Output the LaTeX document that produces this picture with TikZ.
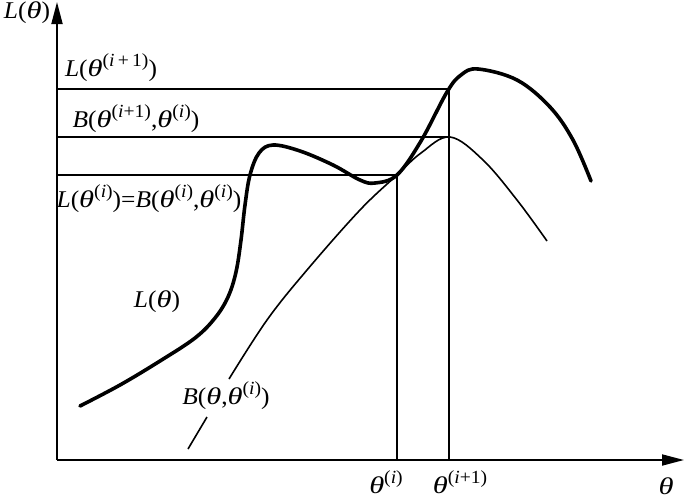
\documentclass[tikz,border=0pt]{standalone}
\usepackage{fontspec}
\usepackage{graphicx}
\setmainfont{Liberation Serif}
\usetikzlibrary{arrows.meta}
\newcommand\It[1]{\textit{#1}}
\newcommand\Th{\scalebox{1.2}[1]{\textit{θ}}}
\newcommand\Sp[1]{\raisebox{0.42em}{\fontsize{18.5}{20}\selectfont #1}}
\newcommand\thi{\Th\Sp{(\It{i})}}
\newcommand\thii{\Th\Sp{(\It{i}+1)}}
\newcommand\thiis{\Th\Sp{(\It{i}\,+\,1)}}
\newcommand\Wide[1]{\scalebox{1.06}[1]{#1}}
\begin{document}
\begin{tikzpicture}[x=1pt,y=-1pt,
  lbl/.style={inner sep=0pt, font=\fontsize{24}{28}\selectfont},
  axis/.style={line width=1.8pt, -{Triangle[length=22pt,width=11pt]}},
  guide/.style={line width=1.8pt},
  thickcurve/.style={line width=3.6pt, line cap=round},
  thincurve/.style={line width=1.6pt}]
\useasboundingbox (0,0) rectangle (685,498);
% axes
\coordinate (O) at (57,460);
\coordinate (ytop) at (57,2);
\coordinate (xend) at (684,460);
\draw[axis] (O) -- (ytop);
\draw[axis] (O) -- (xend);
% guide lines
\coordinate (Li1) at (57,89);
\coordinate (Pi1) at (449,89);
\coordinate (Bi1) at (57,137);
\coordinate (Qi1) at (449,137);
\coordinate (Li) at (57,175);
\coordinate (Pi) at (397,175);
\coordinate (Xi) at (397,460);
\coordinate (Xi1) at (449,460);
\draw[guide] (Li1) -- (Pi1) -- (Xi1);
\draw[guide] (Bi1) -- (Qi1);
\draw[guide] (Li) -- (Pi) -- (Xi);
% L(theta)
\draw[thickcurve] plot[smooth, tension=0.6] coordinates {
  (80,406) (120,385) (160,361) (195,338) (215,318) (228,297) (236,272)
  (241,240) (245,205) (250,175) (259,153) (273,145) (300,151) (333,165)
  (360,180) (375,183) (397,175) (421,141) (447,92) (461,75) (478,69)
  (517,80) (550,107) (573,140) (591,181)};
% B(theta, theta^i)
\draw[thincurve] (188,449) -- (207,417);
\draw[thincurve] plot[smooth, tension=0.6] coordinates {
  (229,379) (267,320) (307,270) (360,210) (397,175) (421,153) (450,137)
  (483,160) (517,200) (547,241)};
% labels
\node[lbl] (yl) at (27,13) {\Wide{\It{L}(\Th)}};
\node[lbl] (l1) at (111,68) {\Wide{\It{L}(\thiis)}};
\node[lbl] (b1) at (136,119) {\Wide{\It{B}(\thii,\thi)}};
\node[lbl] (lb) at (149,199) {\Wide{\It{L}(\thi)=\It{B}(\thi,\thi)}};
\node[lbl] (lt) at (157,302) {\Wide{\It{L}(\Th)}};
\node[lbl] (bt) at (226,396) {\Wide{\It{B}(\Th,\thi)}};
\node[lbl] (xa) at (386,482) {\Wide{\thi}};
\node[lbl] (xb) at (460,482) {\Wide{\thii}};
\node[lbl] (xl) at (666,486) {\Wide{\Th}};
\end{tikzpicture}
\end{document}
